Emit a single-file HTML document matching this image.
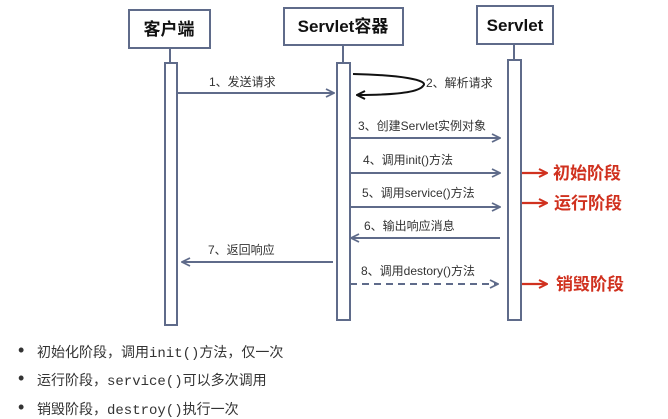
<!DOCTYPE html>
<html><head><meta charset="utf-8"><style>
body{margin:0;width:668px;height:418px;background:#fff;overflow:hidden;position:relative;font-family:"Liberation Sans","Noto Sans CJK SC",sans-serif}
.b{position:absolute;left:18px;font-size:14px;color:#333}
.b span{position:absolute;left:0;top:-2px;font-size:18px}
.b div{position:absolute;left:19px;top:0;white-space:nowrap}
.m{font-family:"Liberation Mono","Noto Sans CJK SC",monospace}
</style></head><body>
<svg width="668" height="330" style="position:absolute;left:0;top:0" font-family="Liberation Sans, Noto Sans CJK SC, sans-serif">
<defs>
<marker id="a" markerWidth="10" markerHeight="10" refX="9" refY="5" orient="auto" markerUnits="userSpaceOnUse"><path d="M1,1 L9,5 L1,9" fill="none" stroke="#5f6b8a" stroke-width="1.8"/></marker>
<marker id="k" markerWidth="10" markerHeight="10" refX="9" refY="5" orient="auto" markerUnits="userSpaceOnUse"><path d="M1,1 L9,5 L1,9" fill="none" stroke="#111" stroke-width="2"/></marker>
<marker id="r" markerWidth="10" markerHeight="10" refX="9" refY="5" orient="auto" markerUnits="userSpaceOnUse"><path d="M1,1 L9,5 L1,9" fill="none" stroke="#d0311f" stroke-width="2"/></marker>
</defs>
<g stroke="#5f6b8a" stroke-width="2" fill="#fff">
<rect x="129" y="10" width="81" height="38"/>
<rect x="284" y="8" width="119" height="37"/>
<rect x="477" y="6" width="76" height="38"/>
<line x1="170" y1="48" x2="170" y2="63"/>
<line x1="343" y1="45" x2="343" y2="63"/>
<line x1="514" y1="44" x2="514" y2="60"/>
<rect x="165" y="63" width="12" height="262"/>
<rect x="337" y="63" width="13" height="257"/>
<rect x="508" y="60" width="13" height="260"/>
</g>
<g font-weight="bold" font-size="17" fill="#111" text-anchor="middle">
<text x="169" y="35">客户端</text><text x="343" y="32">Servlet容器</text><text x="515" y="31">Servlet</text>
</g>
<g stroke="#5f6b8a" stroke-width="2" fill="none">
<line x1="177" y1="93" x2="334" y2="93" marker-end="url(#a)"/>
<line x1="351" y1="138" x2="500" y2="138" marker-end="url(#a)"/>
<line x1="351" y1="173" x2="500" y2="173" marker-end="url(#a)"/>
<line x1="351" y1="207" x2="500" y2="207" marker-end="url(#a)"/>
<line x1="500" y1="238" x2="351" y2="238" marker-end="url(#a)"/>
<line x1="333" y1="262" x2="182" y2="262" marker-end="url(#a)"/>
<line x1="350" y1="284" x2="498" y2="284" stroke-dasharray="7,5" marker-end="url(#a)"/>
</g>
<path d="M353,74 C400,75 430,80 423,86 C418,93 390,95 357,95" fill="none" stroke="#111" stroke-width="2" marker-end="url(#k)"/>
<g stroke="#d0311f" stroke-width="2.2">
<line x1="522" y1="173" x2="547" y2="173" marker-end="url(#r)"/>
<line x1="522" y1="203" x2="547" y2="203" marker-end="url(#r)"/>
<line x1="522" y1="284" x2="547" y2="284" marker-end="url(#r)"/>
</g>
<g font-weight="bold" font-size="17" fill="#d0311f">
<text x="553" y="179">初始阶段</text><text x="554" y="209">运行阶段</text><text x="556" y="290">销毁阶段</text>
</g>
<g font-size="12" fill="#333">
<text x="209" y="86">1、发送请求</text>
<text x="426" y="87">2、解析请求</text>
<text x="358" y="130">3、创建Servlet实例对象</text>
<text x="363" y="164">4、调用init()方法</text>
<text x="362" y="197">5、调用service()方法</text>
<text x="364" y="230">6、输出响应消息</text>
<text x="208" y="254">7、返回响应</text>
<text x="361" y="275">8、调用destory()方法</text>
</g>
</svg>
<div class="b" style="top:342px"><span>•</span><div>初始化阶段，调用<span class="m" style="position:static;font-size:14px">init()</span>方法，仅一次</div></div>
<div class="b" style="top:370px"><span>•</span><div>运行阶段，<span class="m" style="position:static;font-size:14px">service()</span>可以多次调用</div></div>
<div class="b" style="top:399px"><span>•</span><div>销毁阶段，<span class="m" style="position:static;font-size:14px">destroy()</span>执行一次</div></div>
</body></html>
